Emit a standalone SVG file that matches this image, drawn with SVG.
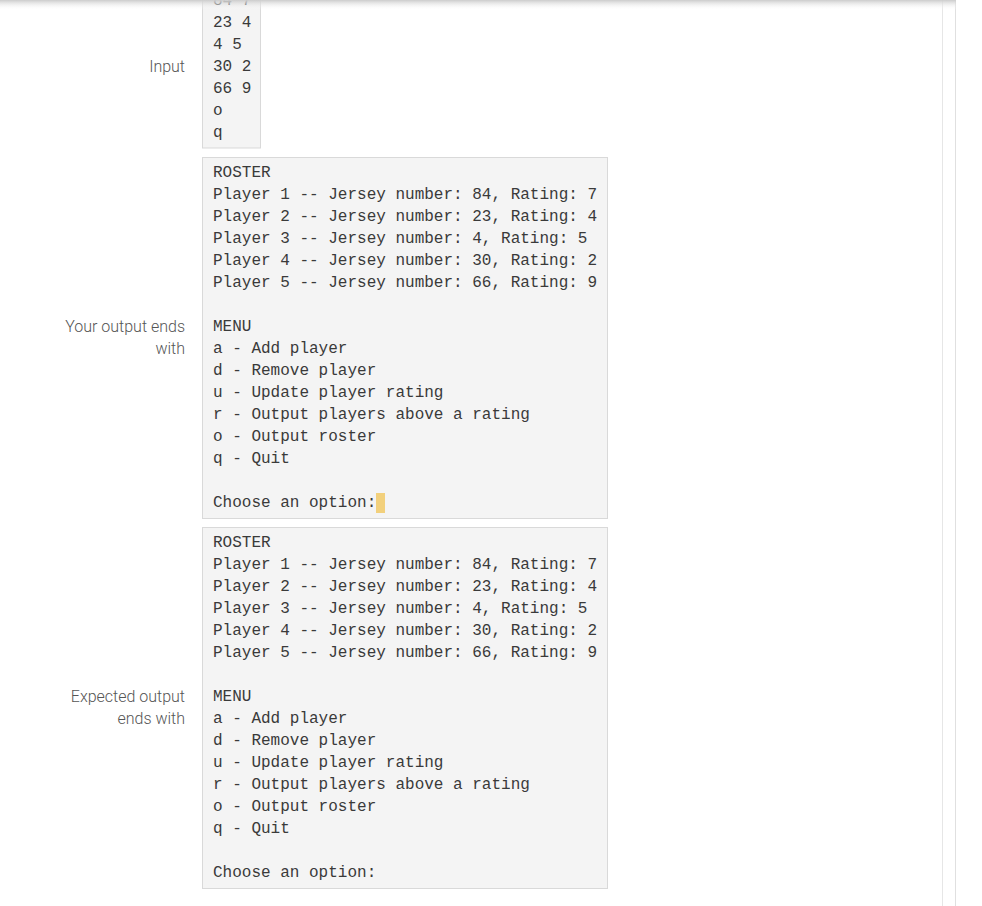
<svg xmlns="http://www.w3.org/2000/svg" width="982" height="906" viewBox="0 0 982 906">
<style>
.box{fill:#f4f4f4;stroke:#d9d9d9;stroke-width:1}
.m{font-family:"Liberation Mono","Courier New",monospace;font-size:16px;fill:#3a3a3a;white-space:pre}
.l{font-family:Roboto,"Liberation Sans",sans-serif;font-size:16px;font-weight:300;fill:#555;text-anchor:end}
</style>
<defs><linearGradient id="sh" x1="0" y1="0" x2="0" y2="1"><stop offset="0" stop-color="#ccc"/><stop offset="1" stop-color="#fff" stop-opacity="0"/></linearGradient></defs>
<rect width="982" height="906" fill="#fff"/>
<line x1="942.5" y1="0" x2="942.5" y2="906" stroke="#e6e6e6"/>
<line x1="955.5" y1="0" x2="955.5" y2="906" stroke="#e0e0e0"/>
<g id="input">
<rect class="box" x="202.5" y="-10" width="58" height="158"/>
<text class="m" x="213" y="5">84 7</text>
<text class="m" x="213" y="27">23 4</text>
<text class="m" x="213" y="49">4 5</text>
<text class="m" x="213" y="71">30 2</text>
<text class="m" x="213" y="93">66 9</text>
<text class="m" x="213" y="115">o</text>
<text class="m" x="213" y="137">q</text>
<text class="l" x="185" y="72">Input</text>
</g>
<g id="yours">
<rect class="box" x="202.5" y="157.5" width="405" height="361"/>
<text class="m" x="213" y="177">ROSTER</text>
<text class="m" x="213" y="199">Player 1 -- Jersey number: 84, Rating: 7</text>
<text class="m" x="213" y="221">Player 2 -- Jersey number: 23, Rating: 4</text>
<text class="m" x="213" y="243">Player 3 -- Jersey number: 4, Rating: 5</text>
<text class="m" x="213" y="265">Player 4 -- Jersey number: 30, Rating: 2</text>
<text class="m" x="213" y="287">Player 5 -- Jersey number: 66, Rating: 9</text>
<text class="m" x="213" y="331">MENU</text>
<text class="m" x="213" y="353">a - Add player</text>
<text class="m" x="213" y="375">d - Remove player</text>
<text class="m" x="213" y="397">u - Update player rating</text>
<text class="m" x="213" y="419">r - Output players above a rating</text>
<text class="m" x="213" y="441">o - Output roster</text>
<text class="m" x="213" y="463">q - Quit</text>
<text class="m" x="213" y="507">Choose an option:</text>
<rect x="376" y="493" width="9" height="20" fill="#f2d07c"/>
<text class="l" x="185" y="332">Your output ends</text>
<text class="l" x="185" y="354">with</text>
</g>
<g id="expected">
<rect class="box" x="202.5" y="527.5" width="405" height="361"/>
<text class="m" x="213" y="547">ROSTER</text>
<text class="m" x="213" y="569">Player 1 -- Jersey number: 84, Rating: 7</text>
<text class="m" x="213" y="591">Player 2 -- Jersey number: 23, Rating: 4</text>
<text class="m" x="213" y="613">Player 3 -- Jersey number: 4, Rating: 5</text>
<text class="m" x="213" y="635">Player 4 -- Jersey number: 30, Rating: 2</text>
<text class="m" x="213" y="657">Player 5 -- Jersey number: 66, Rating: 9</text>
<text class="m" x="213" y="701">MENU</text>
<text class="m" x="213" y="723">a - Add player</text>
<text class="m" x="213" y="745">d - Remove player</text>
<text class="m" x="213" y="767">u - Update player rating</text>
<text class="m" x="213" y="789">r - Output players above a rating</text>
<text class="m" x="213" y="811">o - Output roster</text>
<text class="m" x="213" y="833">q - Quit</text>
<text class="m" x="213" y="877">Choose an option:</text>
<text class="l" x="185" y="702">Expected output</text>
<text class="l" x="185" y="724">ends with</text>
</g>
<g id="connectors"/>
<rect x="0" y="0" width="956" height="10" fill="url(#sh)"/>
</svg>
